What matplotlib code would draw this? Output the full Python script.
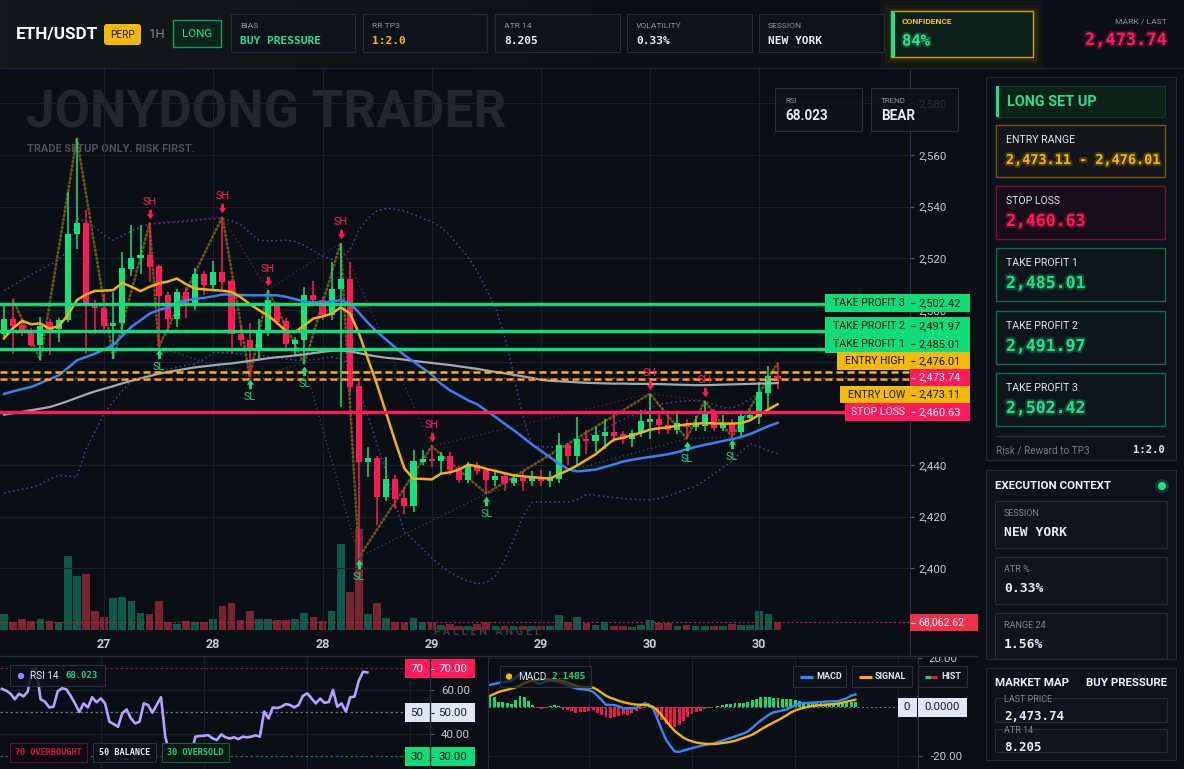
import numpy as np
import matplotlib
matplotlib.use('Agg')
import matplotlib.pyplot as plt
from matplotlib.patches import Rectangle, FancyBboxPatch, Circle
from matplotlib.path import Path
from matplotlib.colors import LinearSegmentedColormap, to_rgba
import matplotlib.transforms as mtrans
import matplotlib.patheffects as pe

W, H, DPI = 1184, 769, 100

# ------------------------------------------------------------------ data
opens = [2490.9, 2496.7, 2494.1, 2492.2, 2486.4, 2495.4, 2492.8, 2496.0, 2529.6, 2533.5,
         2502.9, 2500.6, 2493.7, 2495.1, 2515.8, 2520.3, 2521.2, 2517.0, 2505.7, 2496.7,
         2507.0, 2502.8, 2513.9, 2509.6, 2514.6, 2511.2, 2490.9, 2488.5, 2484.7, 2492.2,
         2501.9, 2495.8, 2487.0, 2488.3, 2505.7, 2503.8, 2498.0, 2508.3, 2512.0, 2470.5,
         2441.1, 2442.8, 2427.6, 2434.7, 2427.2, 2424.1, 2441.1, 2442.4, 2441.4, 2443.5,
         2438.2, 2434.3, 2439.8, 2438.2, 2434.3, 2435.6, 2433.0, 2434.8, 2433.8, 2434.8,
         2433.8, 2434.7, 2447.6, 2443.3, 2450.2, 2449.3, 2451.1, 2452.6, 2451.8, 2450.1,
         2452.2, 2456.6, 2457.9, 2455.6, 2453.6, 2455.9, 2454.6, 2455.0, 2460.5, 2454.5,
         2455.9, 2452.8, 2458.3, 2458.6, 2467.9, 2474.3]
highs = [2501.9, 2504.0, 2496.7, 2493.0, 2497.3, 2496.7, 2497.0, 2545.8, 2566.5, 2538.7,
         2504.0, 2506.1, 2507.0, 2522.5, 2532.9, 2532.9, 2533.5, 2517.4, 2507.0, 2508.0,
         2509.0, 2516.1, 2515.0, 2519.0, 2536.1, 2512.0, 2494.0, 2494.8, 2496.7, 2507.7,
         2503.0, 2497.0, 2489.5, 2509.0, 2511.3, 2505.0, 2518.6, 2525.9, 2518.6, 2473.0,
         2447.0, 2443.5, 2443.1, 2436.0, 2431.5, 2445.7, 2445.7, 2447.2, 2445.0, 2445.0,
         2439.5, 2441.0, 2441.0, 2439.0, 2438.0, 2437.0, 2436.5, 2437.5, 2437.5, 2438.0,
         2437.5, 2452.2, 2448.4, 2458.6, 2453.4, 2454.7, 2457.8, 2460.3, 2453.0, 2453.5,
         2461.2, 2467.6, 2459.8, 2459.4, 2459.8, 2457.8, 2458.8, 2464.8, 2461.5, 2459.4,
         2457.8, 2459.8, 2461.2, 2472.2, 2478.2, 2479.3]
lows = [2489.6, 2483.1, 2490.0, 2485.7, 2480.6, 2482.5, 2487.6, 2495.4, 2523.8, 2483.1,
        2490.9, 2490.9, 2481.2, 2490.9, 2513.0, 2514.1, 2511.0, 2485.7, 2492.0, 2493.5,
        2497.0, 2500.0, 2506.0, 2508.0, 2508.0, 2483.1, 2486.0, 2474.1, 2481.2, 2490.0,
        2494.0, 2485.0, 2482.5, 2479.2, 2502.0, 2496.0, 2496.0, 2462.4, 2468.0, 2404.3,
        2435.3, 2416.6, 2426.0, 2423.0, 2421.2, 2421.9, 2440.0, 2439.2, 2437.0, 2436.0,
        2433.0, 2433.0, 2436.0, 2428.9, 2432.0, 2430.0, 2432.0, 2430.0, 2432.0, 2432.0,
        2431.6, 2433.0, 2440.0, 2440.0, 2444.4, 2445.0, 2446.0, 2449.0, 2448.0, 2447.0,
        2451.0, 2450.2, 2452.0, 2452.0, 2452.0, 2450.2, 2453.0, 2453.0, 2453.0, 2453.0,
        2450.8, 2451.0, 2457.0, 2456.0, 2460.0, 2469.6]
closes = [2496.7, 2493.7, 2491.9, 2486.4, 2493.7, 2491.9, 2496.3, 2529.6, 2533.5, 2502.8,
          2500.6, 2493.7, 2495.1, 2516.1, 2520.3, 2521.2, 2516.7, 2505.4, 2496.7, 2507.0,
          2502.8, 2513.9, 2509.6, 2514.6, 2510.9, 2490.9, 2488.3, 2484.7, 2491.5, 2503.8,
          2495.4, 2487.0, 2488.5, 2505.7, 2503.8, 2498.0, 2508.3, 2512.0, 2470.2, 2441.1,
          2442.8, 2427.6, 2434.7, 2426.8, 2424.1, 2441.4, 2442.4, 2441.5, 2443.5, 2438.0,
          2434.3, 2439.8, 2437.8, 2434.3, 2435.6, 2433.0, 2434.8, 2433.8, 2434.8, 2433.8,
          2435.4, 2447.6, 2443.3, 2449.9, 2449.3, 2451.5, 2452.6, 2451.1, 2450.1, 2452.2,
          2457.0, 2457.9, 2455.4, 2453.6, 2456.1, 2454.6, 2455.9, 2460.5, 2454.5, 2455.9,
          2452.7, 2458.8, 2459.2, 2468.3, 2474.3, 2473.74]
volumes = [136100, 68100, 93600, 76600, 93600, 76600, 68100, 629600, 459400, 476400,
           161700, 110600, 272300, 280800, 246700, 144600, 136100, 246700, 68100, 51000,
           76600, 68100, 68100, 93600, 204200, 229700, 85100, 161700, 93600, 93600,
           85100, 85100, 93600, 144600, 110600, 76600, 161700, 731700, 323300, 859300,
           136100, 229700, 102100, 68100, 59600, 102100, 68100, 68100, 42500, 51000,
           34000, 34000, 51000, 68100, 34000, 34000, 34000, 34000, 34000, 34000,
           34000, 127600, 68100, 110600, 59600, 42500, 68100, 34000, 34000, 25500,
           42500, 85100, 59600, 59600, 34000, 42500, 34000, 34000, 34000, 34000,
           51000, 42500, 42500, 161700, 136100, 68062.62]
ema_fast = [2489, 2493, 2495.8, 2494.5, 2494.8, 2492.8, 2493.7, 2498, 2503.8, 2506,
            2507.4, 2507.5, 2507.7, 2510.5, 2509, 2507.3, 2509, 2510.3, 2511, 2512.2,
            2510, 2508.3, 2508, 2507.7, 2507.5, 2507, 2505, 2502.3, 2500, 2498,
            2495, 2491.8, 2491.5, 2494.1, 2496.7, 2497.5, 2498.6, 2501, 2498.8, 2491,
            2481, 2471, 2460, 2449, 2438.6, 2434.7, 2434.6, 2434.4, 2436.6, 2437.2,
            2438.2, 2440.1, 2439.5, 2438.5, 2437.7, 2436.8, 2436, 2435.6, 2435.3, 2435,
            2434.7, 2436.4, 2438, 2439.8, 2442, 2444.1, 2447, 2449.8, 2450.5, 2451.5,
            2452.5, 2453.7, 2454.2, 2454.6, 2455.2, 2455.7, 2456, 2456.2, 2456.1, 2456,
            2456, 2456.2, 2457.3, 2459.5, 2461.5, 2463.5]
ema_mid = [2467.5, 2468.5, 2469.4, 2470.2, 2471.7, 2473.2, 2474.7, 2477.5, 2480.5, 2481.8,
           2483.1, 2484.7, 2486.4, 2490, 2493.5, 2496, 2498.6, 2500, 2501, 2502.4,
           2503.8, 2504.3, 2504.7, 2505.3, 2506, 2506, 2505.8, 2505.7, 2505.7, 2505.7,
           2505.7, 2505.1, 2504.2, 2503.2, 2503, 2502.9, 2503.3, 2503.8, 2502.5, 2499,
           2495, 2491.5, 2488.5, 2485.5, 2482.5, 2480, 2477.5, 2475, 2471.5, 2468.9,
           2467, 2465, 2463.5, 2461, 2458.6, 2456, 2453.5, 2450.8, 2448, 2445.5,
           2443, 2440.5, 2438.3, 2437.5, 2437.8, 2438.2, 2439.2, 2440.2, 2441.3, 2442,
           2442.6, 2443.1, 2443.6, 2444.2, 2445, 2446, 2447, 2447.8, 2448.5, 2449.3,
           2450, 2450.8, 2452, 2453.5, 2455, 2456.3]
sma_slow = [2459.5, 2460, 2460.6, 2461.2, 2461.8, 2462.4, 2463.5, 2464.7, 2466, 2467.3,
            2468.5, 2469.5, 2470.5, 2471.6, 2472.6, 2473.5, 2474.4, 2475.3, 2476, 2476.6,
            2477.2, 2477.8, 2478.2, 2478.6, 2479, 2479.3, 2479.8, 2480.3, 2480.8, 2481.3,
            2481.7, 2482, 2482.4, 2482.8, 2483.3, 2483.8, 2484.2, 2484.3, 2484, 2483.3,
            2482.6, 2482, 2481.5, 2481.2, 2480.8, 2480.3, 2479.9, 2479.5, 2479.1, 2478.7,
            2478.2, 2477.7, 2477.2, 2476.6, 2476, 2475.5, 2474.9, 2474.3, 2473.7, 2473,
            2472.6, 2472.4, 2472.2, 2472, 2471.8, 2471.7, 2471.6, 2471.5, 2471.5, 2471.4,
            2471.4, 2471.4, 2471.3, 2471.2, 2471.1, 2471, 2470.9, 2470.9, 2471, 2471.1,
            2471.2, 2471.3, 2471.4, 2471.5, 2471.6, 2471.7]
bb_upper = [2507.5, 2509.6, 2511.7, 2513.7, 2515.6, 2517.5, 2519.4, 2523, 2535.5, 2534.5,
            2532, 2529, 2527, 2528.8, 2530.6, 2532.2, 2533.3, 2533.5, 2533.8, 2534,
            2534.3, 2534.6, 2535, 2535.3, 2535.5, 2534.5, 2533, 2530, 2527, 2526.8,
            2526.9, 2527, 2526.5, 2525, 2523, 2521, 2519.5, 2520.5, 2523.2, 2530.9,
            2535.5, 2538.5, 2539.3, 2539, 2538.3, 2537, 2535.5, 2534.2, 2532, 2529,
            2524.5, 2520.5, 2515, 2508, 2501, 2490, 2475, 2459, 2447.5, 2447,
            2447, 2447, 2448, 2449.5, 2451, 2452.2, 2454, 2455.8, 2457.6, 2459,
            2460.5, 2462, 2463.6, 2464, 2464.5, 2464.8, 2465, 2464.5, 2463.5, 2462.3,
            2462, 2463.5, 2465.5, 2468, 2471, 2472.8]
bb_lower = [2429.2, 2429.9, 2430.6, 2431.3, 2432.5, 2434.5, 2436, 2435.7, 2435.3, 2446,
            2453, 2460, 2464.5, 2468.7, 2472.5, 2473.8, 2475, 2476, 2477, 2477.8,
            2478.6, 2479.2, 2481, 2483.5, 2483.5, 2483.2, 2483, 2482.7, 2482.5, 2482,
            2481.5, 2481, 2480.6, 2480.5, 2480.8, 2481.2, 2481.8, 2480.8, 2479.3, 2469,
            2459, 2448, 2437, 2425, 2414, 2411, 2407.5, 2404, 2401, 2398.5,
            2396.5, 2395, 2394, 2394.5, 2397, 2403, 2411, 2420, 2425.5, 2425.7,
            2425.7, 2425.7, 2425.7, 2426.5, 2428.6, 2428.3, 2427.8, 2427.4, 2427, 2426.8,
            2426.6, 2426.5, 2427, 2428, 2429.3, 2430.7, 2431.8, 2434, 2436.5, 2439,
            2441.5, 2445, 2448.3, 2447, 2445.5, 2444.4]
rsi = [60.5, 59.7, 58.3, 55.8, 58.3, 57.1, 59.2, 69.1, 69.7, 55.8,
       54.7, 52.1, 52.4, 59.5, 60.8, 60.3, 57.3, 53.9, 50.0, 53.9,
       52.1, 56.7, 54.4, 56.2, 53.9, 45.6, 44.5, 43.3, 49.4, 51.2,
       47.1, 44.8, 45.6, 53.9, 53.2, 49.7, 53.2, 56.7, 38.8, 30.9,
       32.7, 29.7, 33.0, 31.2, 30.5, 38.8, 39.1, 39.2, 39.5, 38.0,
       37.3, 39.8, 38.5, 38.0, 38.5, 37.7, 38.8, 38.5, 38.8, 39.4,
       38.8, 50.2, 47.1, 52.1, 51.8, 52.4, 53.6, 53.2, 52.1, 53.2,
       57.3, 58.5, 56.2, 53.9, 56.1, 54.2, 54.5, 60.0, 52.4, 53.9,
       50.2, 56.7, 57.0, 64.2, 68.3, 68.0]
macd = [9.0, 9.4, 9.8, 10.1, 10.4, 10.6, 12.0, 13.5, 14.4, 12.5,
        10.8, 9.6, 9.6, 10.3, 10.7, 10.5, 10.1, 9.6, 8.9, 8.2,
        7.6, 7.3, 7.1, 6.9, 6.2, 4.6, 2.8, 0.9, 0.8, 0.8,
        0.2, -0.5, -0.5, -0.5, -0.4, 0.6, 1.6, 1.0, -0.8, -5.0,
        -9.5, -13.5, -16.0, -18.2, -18.3, -17.8, -17.3, -16.8, -16.3, -15.9,
        -15.5, -15.2, -14.9, -14.3, -13.7, -13.2, -12.6, -12.0, -11.4, -10.8,
        -10.0, -8.5, -7.0, -5.5, -4.3, -3.0, -2.2, -1.8, -1.4, -1.0,
        -0.2, 0.7, 1.5, 1.6, 1.7, 1.8, 1.9, 2.0, 2.2, 2.3,
        2.3, 2.4, 3.0, 3.6, 4.6, 5.1]
signal = [4.5, 5.3, 6.1, 6.6, 7.0, 7.5, 8.0, 8.8, 9.7, 10.4,
          10.8, 11.0, 11.2, 11.3, 11.2, 11.0, 10.9, 10.6, 10.0, 9.3,
          8.7, 8.2, 8.1, 8.0, 7.9, 7.0, 5.8, 4.6, 3.8, 3.2,
          2.5, 2.0, 1.6, 1.2, 1.0, 0.9, 0.8, 0.6, 0.0, -1.5,
          -3.5, -5.8, -7.9, -9.8, -11.2, -12.5, -13.4, -14.0, -14.5, -14.8,
          -15.0, -15.1, -15.1, -15.0, -14.7, -14.5, -14.2, -13.8, -13.2, -12.6,
          -12.0, -11.3, -10.3, -9.2, -8.2, -7.2, -6.3, -5.4, -4.4, -3.4,
          -2.2, -1.4, -0.8, -0.3, 0.1, 0.4, 0.6, 0.8, 1.0, 1.1,
          1.2, 1.4, 1.8, 2.2, 2.6, 3.0]
hist = [4.9, 3.9, 2.2, 2.2, 1.5, 1.1, 2.9, 4.5, 4.2, 2.4,
        0.8, -0.5, -0.8, -0.4, 0.4, 0.7, 0.3, -1.2, -1.4, -1.8,
        -2.3, -1.9, -1.9, -1.5, -1.2, -2.3, -3.3, -4.2, -4.4, -3.9,
        -3.7, -2.9, -3.3, -2.3, -1.5, -1.0, -0.4, 0.4, -0.7, -3.9,
        -5.3, -7.1, -8.0, -8.3, -7.3, -5.6, -3.9, -2.9, -2.0, -1.5,
        -1.0, -0.5, 0.1, 0.4, 0.7, 1.1, 1.4, 1.5, 1.5, 1.8,
        2.2, 2.9, 3.4, 3.9, 4.1, 3.9, 3.5, 3.5, 3.4, 3.3,
        3.1, 2.9, 2.6, 2.2, 2.0, 1.9, 1.8, 1.5, 1.2, 1.4,
        1.5, 1.5, 1.8, 2.0, 2.0, 2.0]

date_tick_idx = [11, 23, 35, 47, 59, 71, 83]
date_tick_labels = ['27', '28', '28', '29', '29', '30', '30']
price_ticks = [2400, 2420, 2440, 2460, 2480, 2500, 2520, 2540, 2560, 2580]
covered_ticks = [2460, 2480]          # labels hidden under the level tags
swing_high_idx = [16, 24, 29, 37, 47, 71, 77]
swing_low_idx = [17, 27, 33, 39, 53, 75, 80]
zigzag_idx = [1, 4, 8, 12, 16, 17, 24, 27, 29, 33, 37, 39, 47, 53, 71, 75, 77, 80, 85]
zigzag_kind = ['H', 'L', 'H', 'L', 'H', 'L', 'H', 'L', 'H', 'L', 'H', 'L', 'H', 'L', 'H', 'L', 'H', 'L', 'H']

tp3, tp2, tp1 = 2502.42, 2491.97, 2485.01
entry_high, entry_low = 2476.01, 2473.11
last_price, stop_loss = 2473.74, 2460.63
last_volume = 68062.62
rsi_last, macd_last = 68.023, 2.1485
atr14, volatility, range24 = '8.205', '0.33%', '1.56%'
confidence = '84%'

# ------------------------------------------------------------------ style
BG = '#0a0e15'
GRIDC = '#1b212b'
GREEN = '#14e07c'
RED = '#ff1a57'
PINK = '#ff1a5c'
YELLOW = '#f0b90b'
GTXT = '#1fe08a'
TAGG = '#10dd7a'
WHITE = '#e8ecf3'
LBL = '#8b93a5'
SANS = ['Roboto', 'DejaVu Sans']
MONO = ['DejaVu Sans Mono']


def pt(px):
    return px * 0.72


fig = plt.figure(figsize=(W / DPI, H / DPI), dpi=DPI)
fig.patch.set_facecolor(BG)


def px_axes(x0, y0, x1, y1, z):
    a = fig.add_axes([x0 / W, 1 - y1 / H, (x1 - x0) / W, (y1 - y0) / H])
    a.set_zorder(z)
    return a


bg = px_axes(0, 0, W, H, 0)
grad = np.linspace(0, 1, 256)[None, :]
hcmap = LinearSegmentedColormap.from_list('h', ['#121b19', '#0d1117', '#0b0f16'])
bg.imshow(grad, cmap=hcmap, extent=(0, W, 68, 0), aspect='auto', zorder=0)
bg.set_xlim(0, W)
bg.set_ylim(H, 0)
bg.axis('off')

ov = px_axes(0, 0, W, H, 10)
ov.set_xlim(0, W)
ov.set_ylim(H, 0)
ov.axis('off')


def R(x0, y0, x1, y1, fc='none', ec='none', lw=0.8, z=2, r=0, ax=None):
    ax = ax or ov
    if r > 0:
        p = FancyBboxPatch((x0, y0), x1 - x0, y1 - y0,
                           boxstyle=f'round,pad=0,rounding_size={r}',
                           fc=fc, ec=ec, lw=lw, zorder=z)
    else:
        p = Rectangle((x0, y0), x1 - x0, y1 - y0, fc=fc, ec=ec, lw=lw, zorder=z)
    ax.add_patch(p)
    return p


def T(x, y, s, px, color, weight='normal', fam=SANS, ha='left', va='center',
      z=5, glow=0, ax=None, **kw):
    ax = ax or ov
    t = ax.text(x, y, s, fontsize=pt(px), color=color, fontweight=weight,
                family=fam, ha=ha, va=va, zorder=z, **kw)
    if glow:
        t.set_path_effects([pe.withStroke(linewidth=glow, foreground=color, alpha=0.22)])
    return t


def L(x0, y0, x1, y1, color, lw=0.8, z=3, ls='-', ax=None):
    ax = ax or ov
    ax.plot([x0, x1], [y0, y1], color=color, lw=lw, ls=ls, zorder=z,
            solid_capstyle='butt')


# ------------------------------------------------------------------ main price chart
idx = np.arange(len(opens))
o = np.array(opens); h = np.array(highs); l = np.array(lows); c = np.array(closes)
up = c >= o
ccol = np.where(up, GREEN, RED)

ax = px_axes(0, 68, 910, 630, 2)
axv = ax.twinx()
axv.set_zorder(1)
ax.set_zorder(2)
ax.patch.set_visible(False)
axv.patch.set_visible(False)
XL = (-0.44, 99.56)
ax.set_xlim(*XL)
ax.set_ylim(2376.1, 2593.7)

# volume
vcol = np.where(up, '#0d5a4b', '#7a2432')
axv.bar(idx, volumes, width=0.84, color=vcol, linewidth=0, zorder=1)
axv.set_ylim(0, 4.78e6)
axv.set_yticks([])
axv.axhline(last_volume, color='#b02a40', lw=0.8, ls=(0, (2, 2)), zorder=2)
for s in axv.spines.values():
    s.set_visible(False)

# grid / ticks
ax.set_xticks(date_tick_idx)
ax.set_xticklabels(date_tick_labels, fontweight='bold', family=SANS)
ax.set_yticks(price_ticks)
ax.set_yticklabels(['' if v in covered_ticks else f'{v:,}' for v in price_ticks], family=SANS)
ax.yaxis.tick_right()
ax.tick_params(axis='x', length=0, pad=5.5, labelsize=pt(12.5), labelcolor='#c9cdd6')
ax.tick_params(axis='y', length=3, width=0.8, color='#5a6272', pad=3,
               labelsize=pt(11.5), labelcolor='#c3c7d0')
ax.grid(True, color=GRIDC, lw=0.8, zorder=0)
ax.set_axisbelow(True)
for s in ax.spines.values():
    s.set_visible(False)

# bands
ax.plot(idx, bb_upper, color='#5442a8', lw=1.1, ls=(0, (1, 2)), zorder=1.5)
ax.plot(idx, bb_lower, color='#5442a8', lw=1.1, ls=(0, (1, 2)), zorder=1.5)

# swing connectors
for a, b in zip(swing_high_idx[:-1], swing_high_idx[1:]):
    ax.plot([a, b], [highs[a], highs[b]], color='#5e1f36', lw=1.0, ls=(0, (1, 2)), zorder=1.6)
for a, b in zip(swing_low_idx[:-1], swing_low_idx[1:]):
    ax.plot([a, b], [lows[a], lows[b]], color='#17553c', lw=1.0, ls=(0, (1, 2)), zorder=1.6)

# zigzag
zz_price = [highs[i] if k == 'H' else lows[i] for i, k in zip(zigzag_idx, zigzag_kind)]
ax.plot(zigzag_idx, zz_price, color='#65541e', lw=2.0, ls=(0, (0.4, 1.1)),
        dash_capstyle='round', zorder=1.7)

# candles
ax.vlines(idx, l, h, colors=ccol, lw=1.1, zorder=4)
ax.bar(idx, np.maximum(np.abs(c - o), 0.45), bottom=np.minimum(o, c), width=0.68,
       color=ccol, linewidth=0, zorder=4.5)

# moving averages
ax.plot(idx, sma_slow, color='#a3a8b3', lw=1.6, zorder=5)
ax.plot(idx, ema_mid, color='#3a80f0', lw=1.8, zorder=5.1)
ax.plot(idx, ema_fast, color='#f2b20c', lw=1.8, zorder=5.2)

# levels
for lv in (tp3, tp2, tp1):
    ax.axhline(lv, color=TAGG, lw=2.4, zorder=6)
ax.axhline(stop_loss, color=PINK, lw=2.4, zorder=6)
ax.axhline(entry_high, color=YELLOW, lw=1.8, ls=(0, (2.8, 1.6)), zorder=6)
ax.axhline(entry_low, color=YELLOW, lw=1.8, ls=(0, (2.8, 1.6)), zorder=6)
ax.axhline(last_price, color=PINK, lw=0.9, ls=(0, (1.5, 2)), zorder=6.1)

# swing markers


def arrow_path(pointing_up):
    s = -1 if pointing_up else 1
    verts = [(-0.3, s), (0.3, s), (0.3, s * 0.05), (0.75, s * 0.05), (0, -s),
             (-0.75, s * 0.05), (-0.3, s * 0.05), (-0.3, s)]
    codes = [Path.MOVETO] + [Path.LINETO] * 6 + [Path.CLOSEPOLY]
    return Path(verts, codes)


tr_sh = mtrans.offset_copy(ax.transData, fig=fig, x=0, y=9, units='dots')
tr_sl = mtrans.offset_copy(ax.transData, fig=fig, x=0, y=-7, units='dots')
ax.plot(swing_high_idx, [highs[i] for i in swing_high_idx], ls='none',
        marker=arrow_path(False), ms=6.8, color=PINK, mew=0, transform=tr_sh, zorder=7)
ax.plot(swing_low_idx, [lows[i] for i in swing_low_idx], ls='none',
        marker=arrow_path(True), ms=6.8, color='#19e07f', mew=0, transform=tr_sl, zorder=7)
for i in swing_high_idx:
    ax.annotate('SH', (i, highs[i]), xytext=(0, 21), textcoords='offset pixels',
                ha='center', va='center', fontsize=pt(11), color=PINK, family=SANS, zorder=7)
for i in swing_low_idx:
    ax.annotate('SL', (i, lows[i]), xytext=(0, -20), textcoords='offset pixels',
                ha='center', va='center', fontsize=pt(11), color='#19d47a', family=SANS, zorder=7)

# watermark texts (background)
T(26, 114, 'JONYDONG TRADER', 51.5, '#22262e', 'bold', ax=bg, z=1)
T(27, 149, 'TRADE SETUP ONLY. RISK FIRST.', 11, '#4b505a', 'bold', ax=bg, z=1)
T(487, 632, 'F A L L E N   A N G E L', 11, '#393e47', 'bold', ha='center', ax=bg, z=1)

# ------------------------------------------------------------------ RSI panel
axr = px_axes(0, 657, 430, 769, 2)
axr.patch.set_visible(False)
axr.set_xlim(*XL)
axr.set_ylim(24.1, 75)
for s in axr.spines.values():
    s.set_visible(False)
axr.set_xticks([23, 47, 71, 95])
axr.set_xticklabels([])
axr.tick_params(axis='x', length=0)
axr.yaxis.tick_right()
axr.set_yticks([40, 60])
axr.set_yticklabels(['40.00', '60.00'], family=SANS)
axr.tick_params(axis='y', length=3, width=0.8, color='#5a6272', pad=5,
                labelsize=pt(11.5), labelcolor='#c3c7d0')
axr.grid(True, color=GRIDC, lw=0.8)
axr.set_axisbelow(True)
axr.axhline(70, color='#8a1a3c', lw=0.9, ls=(0, (2, 2)))
axr.axhline(50, color='#6a7080', lw=0.9, ls=(0, (2, 2)))
axr.axhline(30, color='#157a4a', lw=0.9, ls=(0, (2, 2)))
axr.plot(idx, rsi, color='#b7a0ff', lw=1.9, zorder=4)

# ------------------------------------------------------------------ MACD panel
axm = px_axes(488, 657, 918, 769, 2)
axm.patch.set_visible(False)
axm.set_xlim(*XL)
axm.set_ylim(-25.3, 20.4)
for s in axm.spines.values():
    s.set_visible(False)
axm.set_xticks([23, 47, 71, 95])
axm.set_xticklabels([])
axm.tick_params(axis='x', length=0)
axm.yaxis.tick_right()
axm.set_yticks([-20, 20])
axm.set_yticklabels(['-20.00', ''], family=SANS)
axm.tick_params(axis='y', length=3, width=0.8, color='#5a6272', pad=6,
                labelsize=pt(11.5), labelcolor='#c3c7d0')
axm.grid(True, color=GRIDC, lw=0.8)
axm.set_axisbelow(True)
axm.axhline(0, color='#6a7080', lw=0.8, ls=(0, (2, 2)), zorder=1)
hcol = np.where(np.array(hist) >= 0, '#16d873', '#f0174f')
axm.bar(idx, hist, width=0.68, color=hcol, linewidth=0, zorder=2)
axm.plot(idx, macd, color='#2e8bff', lw=1.7, zorder=3)
axm.plot(idx, signal, color='#f5b400', lw=1.7, zorder=3.1)

# ------------------------------------------------------------------ frame lines
L(0, 68, W, 68, '#1c2230', 1.0, z=1)
L(910, 68, 910, 656, '#262d3a', 0.9, z=1)
L(0, 656, 978, 656, '#262d3a', 1.0, z=3)
L(488, 656, 488, 769, '#262d3a', 0.9, z=3)
L(918, 656, 918, 769, '#262d3a', 0.9, z=3)

# ------------------------------------------------------------------ header
T(16, 34, 'ETH/USDT', 17, '#ffffff', 'bold')
R(104, 24, 141, 45, fc=YELLOW, r=3)
T(122.5, 34.5, 'PERP', 10, '#2b2100', ha='center')
T(157, 34.5, '1H', 13, '#7a8294', ha='center')
R(173, 20, 221, 47, fc='#0c241b', ec='#1f9a5f', lw=1.0)
T(197, 34, 'LONG', 11.5, '#22e08c', ha='center')
info = [(231, 355, 'BIAS', 'BUY PRESSURE', GTXT), (363, 487, 'RR TP3', '1:2.0', YELLOW),
        (495, 620, 'ATR 14', atr14, WHITE), (627, 752, 'VOLATILITY', volatility, WHITE),
        (759, 884, 'SESSION', 'NEW YORK', WHITE)]
for x0, x1, lab, val, col in info:
    R(x0, 14, x1, 52, fc='#0d121b', ec='#252c3a', lw=0.8)
    T(x0 + 9, 26, lab, 8.5, LBL)
    T(x0 + 9, 40.5, val, 11.2, col, 'bold', MONO)
for k, a in ((10, 0.04), (6, 0.06), (3, 0.09)):
    R(891 - k / 2, 11 - k / 2, 1033 + k / 2, 57 + k / 2, fc='none',
      ec=to_rgba('#c9a21a', a), lw=k * 0.72, z=1.5)
R(891, 11, 1033, 57, fc='#0e2019', ec='#c9a21a', lw=1.0)
R(891, 11, 894.5, 57, fc='#1ee08a', z=2.5)
T(902, 22, 'CONFIDENCE', 8.5, '#e8c547', 'bold')
T(902, 41, confidence, 15.5, '#22e887', 'bold', MONO, glow=3)
T(1167, 22, 'MARK / LAST', 8.5, LBL, ha='right')
T(1167, 40, f'{last_price:,.2f}', 17, PINK, 'bold', MONO, ha='right', glow=3)

# ------------------------------------------------------------------ chart info boxes
for x0, lab, val in ((775, 'RSI', f'{rsi_last:.3f}'), (871, 'TREND', 'BEAR')):
    R(x0, 88, x0 + 87, 131, fc=to_rgba('#0d1119', 0.85), ec='#283040', lw=0.8)
    T(x0 + 10, 101, lab, 8, LBL)
    T(x0 + 10, 116.5, val, 13.5, '#e6eaf2', 'bold')

# ------------------------------------------------------------------ price tags
tags = [('TAKE PROFIT 3', tp3, TAGG, '#04130b', 825, 303),
        ('TAKE PROFIT 2', tp2, TAGG, '#04130b', 825, 326),
        ('TAKE PROFIT 1', tp1, TAGG, '#04130b', 825, 344),
        ('ENTRY HIGH', entry_high, YELLOW, '#1c1400', 837, 361),
        ('', last_price, PINK, '#ffffff', 910, 377.5),
        ('ENTRY LOW', entry_low, YELLOW, '#1c1400', 840, 394.5),
        ('STOP LOSS', stop_loss, PINK, '#ffffff', 845, 412)]
for lab, val, fc, tc, x0, cy in tags:
    R(x0, cy - 8.8, 970, cy + 8.8, fc=fc, z=4)
    if lab:
        T(905, cy, lab, 10.5, tc, ha='right', z=5)
    L(910.5, cy, 914.5, cy, tc, 0.8, z=5)
    T(918, cy, f'{val:,.2f}', 11, tc, z=5)
R(910, 614, 978, 631, fc='#ee3048', z=4)
L(910.5, 622.5, 914.5, 622.5, '#ffffff', 0.8, z=5)
T(918, 622.5, f'{last_volume:,.2f}', 10.5, '#ffffff', z=5)

# RSI overlays
R(10, 665, 105, 686, fc=to_rgba('#0d1119', 0.85), ec='#283040')
ov.add_patch(Circle((21, 676), 3.2, fc='#9c7cff', ec='none', zorder=5))
T(30, 676, 'RSI 14', 10, '#e1e6ef')
T(65, 676, f'{rsi_last:.3f}', 9, '#19d47a', 'bold', MONO)
R(10, 743, 87, 762, fc='#100c12', ec='#5a1530')
T(48.5, 752.5, '70 OVERBOUGHT', 8.5, '#d2164a', 'bold', MONO, ha='center')
R(93, 743, 156, 762, fc='#0d1016', ec='#2a3040')
T(124.5, 752.5, '50 BALANCE', 8.5, '#e6eaf2', 'bold', MONO, ha='center')
R(162, 743, 229, 762, fc='#0c1813', ec='#15603a')
T(195.5, 752.5, '30 OVERSOLD', 8.5, '#1bd07a', 'bold', MONO, ha='center')
for lvl, cy, fc, tc in ((70, 668.5, PINK, '#ffffff'), (50, 712.5, '#dfe6f5', '#1a1f2a'),
                        (30, 756.5, TAGG, '#08130d')):
    R(405, cy - 9.5, 475, cy + 9.5, fc=fc, z=4)
    T(417, cy, f'{lvl}', 11.5, tc, ha='center', z=5)
    T(453, cy, f'{lvl:.2f}', 11.5, tc, ha='center', z=5)
    L(431, cy, 434, cy, tc, 0.8, z=5)
L(430, 656, 430, 769, '#262d3a', 1.0, z=4.5)

# MACD overlays
R(500, 666, 591, 687, fc=to_rgba('#0d1119', 0.7), ec='#283040')
ov.add_patch(Circle((509, 676.5), 3.2, fc=YELLOW, ec='none', zorder=5))
T(518, 676.5, 'MACD', 10, '#e1e6ef')
T(551, 676.5, f'{macd_last:.4f}', 9.5, '#19d47a', 'bold', MONO)
for x0, x1, lab, icol in ((793, 846, 'MACD', '#2e8bff'), (852, 912, 'SIGNAL', '#f5b400'),
                          (918, 967, 'HIST', None)):
    R(x0, 666, x1, 687, fc='#0d1119', ec='#283040')
    if icol:
        L(x0 + 7, 676.5, x0 + 20, 676.5, icol, 2.2, z=5)
    else:
        L(x0 + 7, 676.5, x0 + 13, 676.5, '#16d873', 2.2, z=5)
        L(x0 + 13, 676.5, x0 + 19, 676.5, '#f0174f', 2.2, z=5)
    T(x0 + 23, 676.5, lab, 9, '#e1e6ef', 'bold')
R(898, 698, 916.5, 717, fc='#dfe6f5', z=4)
T(907, 707.5, '0', 11.5, '#1a1f2a', ha='center', z=5)
R(917.5, 698, 967, 717, fc='#dfe6f5', z=4)
T(942, 707.5, '0.0000', 11.5, '#1a1f2a', ha='center', z=5)
t20 = T(928, 659, '20.00', 11.5, '#c3c7d0', z=2)
t20.set_clip_box(mtrans.TransformedBbox(mtrans.Bbox([[918, 656.5], [978, 769]]), ov.transData))
t20.set_clip_on(True)

# ------------------------------------------------------------------ right panel
R(986, 77, 1176, 460, fc='#0d1219', ec='#242b38')
R(996, 86, 1165, 117, fc='#0d2219', ec='#173a2c')
R(996, 86, 999, 117, fc='#1ee08a', z=2.5)
T(1007, 101.5, 'LONG SET UP', 14.5, '#22e08c', 'bold')
cards = [(125, 177, 'ENTRY RANGE', f'{entry_low:,.2f} - {entry_high:,.2f}', YELLOW, '#15161a', '#6d5a14', 13.5),
         (186, 239, 'STOP LOSS', f'{stop_loss:,.2f}', PINK, '#160f17', '#6e1733', 16.5),
         (248, 301, 'TAKE PROFIT 1', f'{tp1:,.2f}', GTXT, '#0d171a', '#166b45', 16.5),
         (311, 364, 'TAKE PROFIT 2', f'{tp2:,.2f}', GTXT, '#0d171a', '#166b45', 16.5),
         (373, 426, 'TAKE PROFIT 3', f'{tp3:,.2f}', GTXT, '#0d171a', '#166b45', 16.5)]
for y0, y1, lab, val, col, fc, ec, vs in cards:
    R(996, y0, 1165, y1, fc=fc, ec=ec, lw=1.0)
    T(1006, y0 + 15, lab, 10.5, '#e2e6ee')
    T(1006, y0 + 35, val, vs, col, 'bold', MONO, glow=3)
L(996, 436, 1165, 436, '#2a3140', 1.0)
T(996, 450, 'Risk / Reward to TP3', 10, '#737b8c')
T(1165, 450, '1:2.0', 10.5, '#e6eaf2', 'bold', MONO, ha='right')

R(986, 470, 1176, 659, fc='#0d131a', ec='#242b38')
T(995, 486, 'EXECUTION CONTEXT', 11.5, '#eef1f6', 'bold')
ov.add_patch(Circle((1162, 486), 7, fc=to_rgba('#1ee08a', 0.2), ec='none', zorder=4))
ov.add_patch(Circle((1162, 486), 4, fc='#1ee08a', ec='none', zorder=5))
for y0, lab, val in ((501, 'SESSION', 'NEW YORK'), (557, 'ATR %', volatility), (613, 'RANGE 24', range24)):
    R(995, y0, 1167, min(y0 + 47, 659), fc='#0f151d', ec='#262d3a')
    T(1004, y0 + 12, lab, 9, '#7f8799')
    T(1004, y0 + 31, val, 13, WHITE, 'bold', MONO)

R(986, 668, 1176, 760, fc='#0d1219', ec='#242b38')
T(995, 683, 'MARKET MAP', 11.5, '#eef1f6', 'bold')
T(1167, 683, 'BUY PRESSURE', 11.5, '#eef1f6', 'bold', ha='right')
for y0, y1, lab, val in ((698, 722, 'LAST PRICE', f'{last_price:,.2f}'), (729, 752, 'ATR 14', atr14)):
    R(995, y0, 1167, y1, fc='#0f151d', ec='#262d3a')
    T(1004, y0 + 1.5, lab, 9, '#7f8799', z=6)
    T(1004, y0 + 18.5, val, 12.5, WHITE, 'bold', MONO, z=6)

fig.savefig('out.png', dpi=DPI, facecolor=fig.get_facecolor())
